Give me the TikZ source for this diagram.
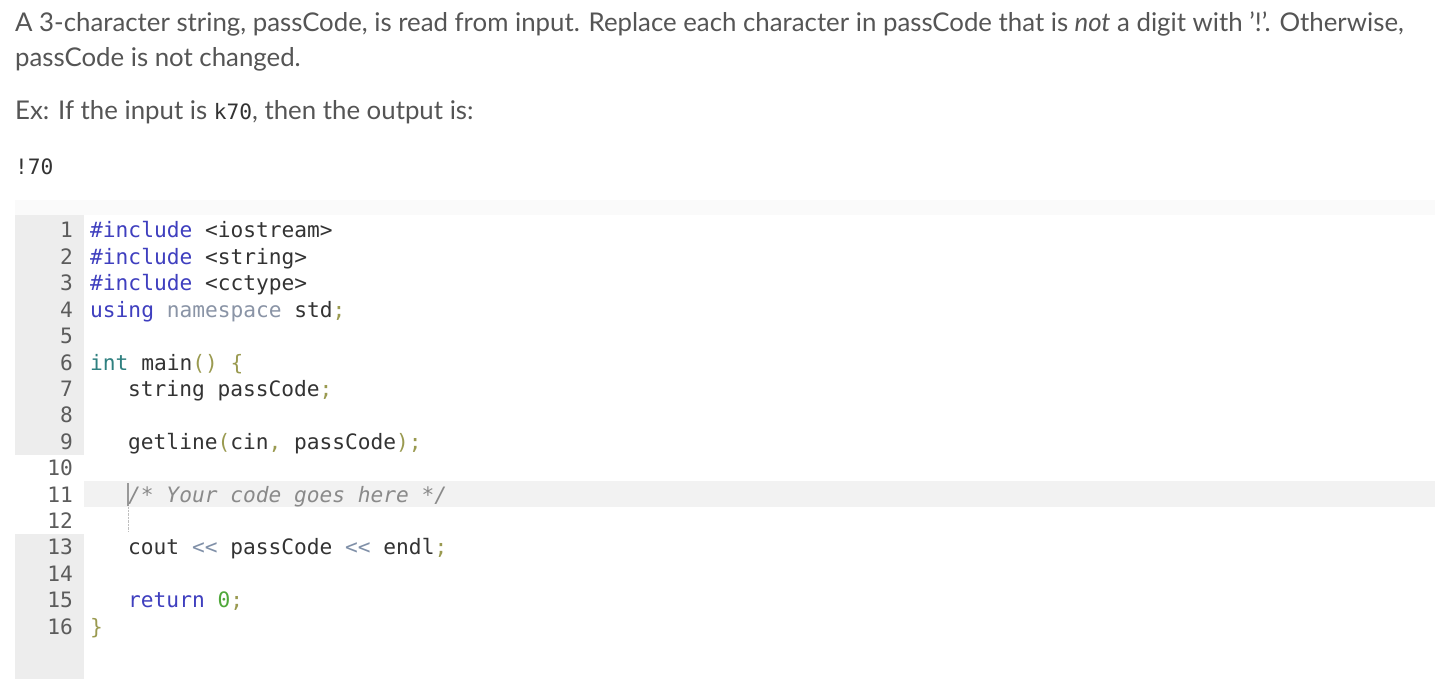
\documentclass[tikz,border=0pt]{standalone}
\usepackage{fontspec}
\setmainfont{Lato}
\setmonofont{DejaVu Sans Mono}
\definecolor{txt}{HTML}{555555}
\definecolor{kw}{HTML}{3F3FBF}
\definecolor{ns}{HTML}{8A94A6}
\definecolor{ty}{HTML}{2F8080}
\definecolor{pu}{HTML}{9A9A50}
\definecolor{cm}{HTML}{8A8A8A}
\definecolor{nu}{HTML}{4FA83A}
\definecolor{op}{HTML}{8090A8}
\definecolor{cd}{HTML}{333333}
\begin{document}
\begin{tikzpicture}[x=1pt,y=-1pt,
  prose/.style={anchor=base west,inner sep=0,text=txt,font=\fontsize{25.8}{30}\selectfont},
  code/.style={anchor=base west,inner sep=0,text=cd,font=\fontsize{21.2}{26}\ttfamily},
  lno/.style={anchor=base east,inner sep=0,text=cd!80,font=\fontsize{21.2}{26}\ttfamily}]
\useasboundingbox (0,0) rectangle (1435,679);
\fill[white] (0,0) rectangle (1435,679);
\node[prose] (p1) at (15,32) {A 3-character string, passCode, is read from input. Replace each character in passCode that is \textit{not} a digit with '!'. Otherwise,};
\node[prose] (p2) at (15,67) {passCode is not changed.};
\node[prose] (p3) at (15,120) {Ex: If the input is {\color{cd}\fontsize{21.2}{26}\ttfamily k70}, then the output is:};
\node[code] (out) at (15,175) {!70};
\fill[black!2] (15,200) rectangle (1435,679);
\fill[white] (84,215) rectangle (1435,679);
\fill[black!7] (15,215) rectangle (84,679);
\fill[white] (15,455) rectangle (84,534);
\fill[black!5] (84,481) rectangle (1435,507);
\draw[black!40,line width=1.2pt] (128,483) -- (128,506);
\draw[black!25,densely dotted] (128,507) -- (128,532);
\foreach \n in {1,...,16}{\node[lno] (l\n) at (73,{238+(\n-1)*26.4}) {\n};}
\def\Y#1{{238+(#1-1)*26.4}}
\node[code] (c1) at (90,\Y1) {\color{kw}\#include \color{cd}<iostream>};
\node[code] (c2) at (90,\Y2) {\color{kw}\#include \color{cd}<string>};
\node[code] (c3) at (90,\Y3) {\color{kw}\#include \color{cd}<cctype>};
\node[code] (c4) at (90,\Y4) {\color{kw}using \color{ns}namespace \color{cd}std\color{pu};};
\node[code] (c6) at (90,\Y6) {\color{ty}int \color{cd}main\color{pu}() \{};
\node[code] (c7) at (128,\Y7) {string passCode\color{pu};};
\node[code] (c9) at (128,\Y9) {getline\color{pu}(\color{cd}cin\color{pu}, \color{cd}passCode\color{pu});};
\node[code,text=cm] (c11) at (128,\Y{11}) {\itshape /* Your code goes here */};
\node[code] (c13) at (128,\Y{13}) {cout \color{op}<< \color{cd}passCode \color{op}<< \color{cd}endl\color{pu};};
\node[code] (c15) at (128,\Y{15}) {\color{kw}return \color{nu}0\color{pu};};
\node[code] (c16) at (90,\Y{16}) {\color{pu}\}};
\end{tikzpicture}
\end{document}
